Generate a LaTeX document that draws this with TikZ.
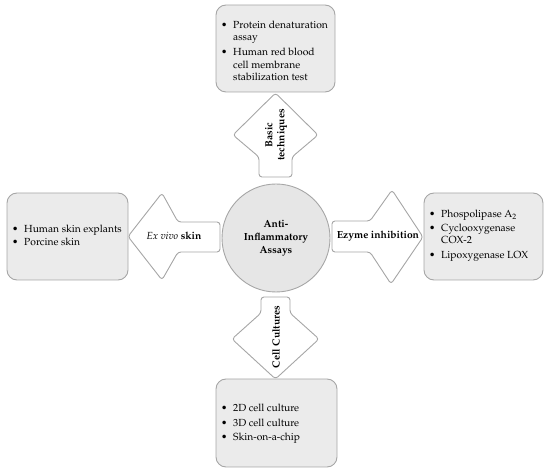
\documentclass[tikz,border=0pt]{standalone}
\usepackage[T1]{fontenc}
\usepackage{mathpazo}
\usepackage{array}
\definecolor{boxfill}{HTML}{EBEBEB}
\definecolor{edgegray}{HTML}{A6A6A6}
\definecolor{circfill}{HTML}{E6E6E6}
\tikzset{
  box/.style={draw=edgegray, fill=boxfill, line width=0.9pt, rounded corners=10pt, inner sep=0pt},
  arr/.style={draw=edgegray, fill=white, line width=0.9pt, rounded corners=3pt, line join=round},
  lbl/.style={font=\fontsize{10.3}{12}\selectfont\bfseries, inner sep=0pt, align=center},
  listtext/.style={font=\fontsize{10.3}{12.5}\selectfont, inner sep=0pt, anchor=base west}
}
\begin{document}
\begin{tikzpicture}[x=1pt,y=-1pt]
\useasboundingbox (0,0) rectangle (550,473);
% boxes
\node[box, minimum width=119, minimum height=87] (topbox) at (275.5,48.5) {};
\node[box, minimum width=121, minimum height=87] (leftbox) at (67.5,236.5) {};
\node[box, minimum width=119, minimum height=87] (rightbox) at (483.5,236.5) {};
\node[box, minimum width=121, minimum height=88] (botbox) at (276.5,423) {};
% arrows
\draw[arr] (259,177) -- (259,157) -- (233,135) -- (275.5,93) -- (318,135) -- (292,157) -- (292,177) -- cycle;
\draw[arr] (332,221) -- (370,221) -- (392,190) -- (423,237) -- (391,284) -- (370,252) -- (332,252) -- cycle;
\draw[arr] (261,297) -- (261,313) -- (232,339) -- (275.5,379) -- (319,339) -- (290,313) -- (290,297) -- cycle;
\draw[arr] (220,222) -- (178,222) -- (162,193) -- (128,236.5) -- (162,280) -- (178,252) -- (220,252) -- cycle;
% circle
\node[circle, draw=edgegray, fill=circfill, line width=0.9pt, minimum size=108, inner sep=0pt,
  font=\fontsize{10.3}{13}\selectfont\bfseries, align=center] (center) at (276,238) {Anti-\\Inflammatory\\Assays};
% arrow labels
\node[lbl, rotate=90] (lbltop) at (276,135) {Basic\\techniques};
\node[lbl, rotate=90] (lblbot) at (276,337) {Cell Cultures};
\node[lbl] (lblleft) at (174,236) {\textit{\mdseries Ex vivo} skin};
\node[lbl] (lblright) at (378,236) {Ezyme inhibition};
% list texts
\node[listtext] (toptext) at (221,28.5) {\begin{tabular}[t]{@{}p{12pt}@{}l@{}}
\textbullet & Protein denaturation\\
 & assay\\[2.5pt]
\textbullet & Human red blood\\
 & cell membrane\\
 & stabilization test
\end{tabular}};
\node[listtext] (lefttext) at (12,233) {\begin{tabular}[t]{@{}p{12pt}@{}l@{}}
\textbullet & Human skin explants\\
\textbullet & Porcine skin
\end{tabular}};
\node[listtext] (righttext) at (429,218) {\begin{tabular}[t]{@{}p{12pt}@{}l@{}}
\textbullet & Phospolipase A\textsubscript{2}\\[1pt]
\textbullet & Cyclooxygenase\\
 & COX-2\\[2.5pt]
\textbullet & Lipoxygenase LOX
\end{tabular}};
\node[listtext] (bottext) at (221,412) {\begin{tabular}[t]{@{}p{12pt}@{}l@{}}
\textbullet & 2D cell culture\\[2pt]
\textbullet & 3D cell culture\\[2pt]
\textbullet & Skin-on-a-chip
\end{tabular}};
\end{tikzpicture}
\end{document}
